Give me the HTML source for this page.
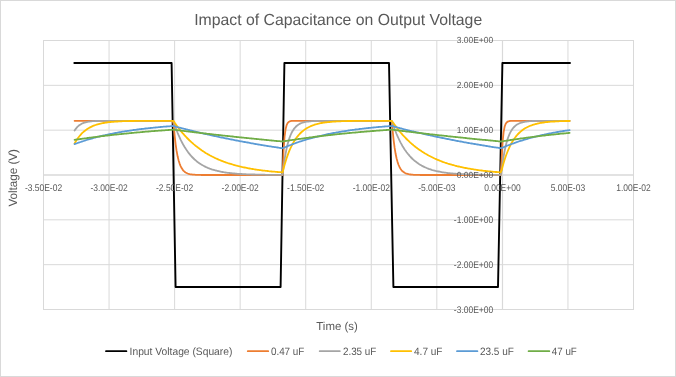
<!DOCTYPE html>
<html><head><meta charset="utf-8"><style>
html,body{margin:0;padding:0;background:#fff;}
svg{display:block;will-change:transform;}
text{font-family:"Liberation Sans", sans-serif;fill:#595959;text-rendering:geometricPrecision;}
</style></head><body>
<svg width="676" height="377" viewBox="0 0 676 377">
<rect x="0.5" y="0.5" width="675" height="376" fill="#fff" stroke="#d9d9d9" stroke-width="1"/>
<path d="M43 40.50H634 M43 85.33H634 M43 130.17H634 M43 219.83H634 M43 264.67H634 M43 309.50H634 M43.50 40V310 M109.06 40V310 M174.61 40V310 M240.17 40V310 M305.72 40V310 M371.28 40V310 M436.83 40V310 M567.94 40V310 M633.50 40V310" stroke="#d9d9d9" stroke-width="1" fill="none"/>
<path d="M43 175.00H634" stroke="#d9d9d9" stroke-width="1.5" fill="none"/>
<path d="M502.5 40V309.6" stroke="#d9d9d9" stroke-width="1.2" fill="none"/>
<path d="M74.3 63.0 L171.6 63.0 L175.6 287.0 L280.6 287.0 L284.4 63.0 L389.0 63.0 L393.4 287.0 L498.0 287.0 L502.4 63.0 L570.0 63.0" stroke="#000" stroke-width="1.9" fill="none" stroke-linejoin="round" stroke-linecap="round"/>
<path d="M74.6 120.8 L75.6 120.8 L76.6 120.8 L77.6 120.8 L78.6 120.8 L79.6 120.8 L80.6 120.8 L81.6 120.8 L82.6 120.8 L83.6 120.8 L84.6 120.8 L85.6 120.8 L86.6 120.8 L87.6 120.8 L88.6 120.8 L89.6 120.8 L90.6 120.8 L91.6 120.8 L92.6 120.8 L93.6 120.8 L94.6 120.8 L95.6 120.8 L96.6 120.8 L97.6 120.8 L98.6 120.8 L99.6 120.8 L100.6 120.8 L101.6 120.8 L102.6 120.8 L103.6 120.8 L104.6 120.8 L105.6 120.8 L106.6 120.8 L107.6 120.8 L108.6 120.8 L109.6 120.8 L110.6 120.8 L111.6 120.8 L112.6 120.8 L113.6 120.8 L114.6 120.8 L115.6 120.8 L116.6 120.8 L117.6 120.8 L118.6 120.8 L119.6 120.8 L120.6 120.8 L121.6 120.8 L122.6 120.8 L123.6 120.8 L124.6 120.8 L125.6 120.8 L126.6 120.8 L127.6 120.8 L128.6 120.8 L129.6 120.8 L130.6 120.8 L131.6 120.8 L132.6 120.8 L133.6 120.8 L134.6 120.8 L135.6 120.8 L136.6 120.8 L137.6 120.8 L138.6 120.8 L139.6 120.8 L140.6 120.8 L141.6 120.8 L142.6 120.8 L143.6 120.8 L144.6 120.8 L145.6 120.8 L146.6 120.8 L147.6 120.8 L148.6 120.8 L149.6 120.8 L150.6 120.8 L151.6 120.8 L152.6 120.8 L153.6 120.8 L154.6 120.8 L155.6 120.8 L156.6 120.8 L157.6 120.8 L158.6 120.8 L159.6 120.8 L160.6 120.8 L161.6 120.8 L162.6 120.8 L163.6 120.8 L164.6 120.8 L165.6 120.8 L166.6 120.8 L167.6 120.8 L168.6 120.8 L169.6 120.8 L170.6 120.8 L171.6 120.8 L172.6 120.8 L173.6 124.0 L174.6 135.3 L175.6 144.1 L176.6 150.9 L177.6 156.3 L178.6 160.4 L179.6 163.6 L180.6 166.1 L181.6 168.1 L182.6 169.6 L183.6 170.8 L184.6 171.7 L185.6 172.5 L186.6 173.0 L187.6 173.5 L188.6 173.8 L189.6 174.1 L190.6 174.3 L191.6 174.4 L192.6 174.6 L193.6 174.7 L194.6 174.7 L195.6 174.8 L196.6 174.8 L197.6 174.9 L198.6 174.9 L199.6 174.9 L200.6 174.9 L201.6 175.0 L202.6 175.0 L203.6 175.0 L204.6 175.0 L205.6 175.0 L206.6 175.0 L207.6 175.0 L208.6 175.0 L209.6 175.0 L210.6 175.0 L211.6 175.0 L212.6 175.0 L213.6 175.0 L214.6 175.0 L215.6 175.0 L216.6 175.0 L217.6 175.0 L218.6 175.0 L219.6 175.0 L220.6 175.0 L221.6 175.0 L222.6 175.0 L223.6 175.0 L224.6 175.0 L225.6 175.0 L226.6 175.0 L227.6 175.0 L228.6 175.0 L229.6 175.0 L230.6 175.0 L231.6 175.0 L232.6 175.0 L233.6 175.0 L234.6 175.0 L235.6 175.0 L236.6 175.0 L237.6 175.0 L238.6 175.0 L239.6 175.0 L240.6 175.0 L241.6 175.0 L242.6 175.0 L243.6 175.0 L244.6 175.0 L245.6 175.0 L246.6 175.0 L247.6 175.0 L248.6 175.0 L249.6 175.0 L250.6 175.0 L251.6 175.0 L252.6 175.0 L253.6 175.0 L254.6 175.0 L255.6 175.0 L256.6 175.0 L257.6 175.0 L258.6 175.0 L259.6 175.0 L260.6 175.0 L261.6 175.0 L262.6 175.0 L263.6 175.0 L264.6 175.0 L265.6 175.0 L266.6 175.0 L267.6 175.0 L268.6 175.0 L269.6 175.0 L270.6 175.0 L271.6 175.0 L272.6 175.0 L273.6 175.0 L274.6 175.0 L275.6 175.0 L276.6 175.0 L277.6 175.0 L278.6 175.0 L279.6 175.0 L280.6 175.0 L281.6 175.0 L282.6 175.0 L283.6 149.8 L284.6 136.3 L285.6 129.1 L286.6 125.2 L287.6 123.1 L288.6 122.0 L289.6 121.4 L290.6 121.1 L291.6 120.9 L292.6 120.9 L293.6 120.8 L294.6 120.8 L295.6 120.8 L296.6 120.8 L297.6 120.8 L298.6 120.8 L299.6 120.8 L300.6 120.8 L301.6 120.8 L302.6 120.8 L303.6 120.8 L304.6 120.8 L305.6 120.8 L306.6 120.8 L307.6 120.8 L308.6 120.8 L309.6 120.8 L310.6 120.8 L311.6 120.8 L312.6 120.8 L313.6 120.8 L314.6 120.8 L315.6 120.8 L316.6 120.8 L317.6 120.8 L318.6 120.8 L319.6 120.8 L320.6 120.8 L321.6 120.8 L322.6 120.8 L323.6 120.8 L324.6 120.8 L325.6 120.8 L326.6 120.8 L327.6 120.8 L328.6 120.8 L329.6 120.8 L330.6 120.8 L331.6 120.8 L332.6 120.8 L333.6 120.8 L334.6 120.8 L335.6 120.8 L336.6 120.8 L337.6 120.8 L338.6 120.8 L339.6 120.8 L340.6 120.8 L341.6 120.8 L342.6 120.8 L343.6 120.8 L344.6 120.8 L345.6 120.8 L346.6 120.8 L347.6 120.8 L348.6 120.8 L349.6 120.8 L350.6 120.8 L351.6 120.8 L352.6 120.8 L353.6 120.8 L354.6 120.8 L355.6 120.8 L356.6 120.8 L357.6 120.8 L358.6 120.8 L359.6 120.8 L360.6 120.8 L361.6 120.8 L362.6 120.8 L363.6 120.8 L364.6 120.8 L365.6 120.8 L366.6 120.8 L367.6 120.8 L368.6 120.8 L369.6 120.8 L370.6 120.8 L371.6 120.8 L372.6 120.8 L373.6 120.8 L374.6 120.8 L375.6 120.8 L376.6 120.8 L377.6 120.8 L378.6 120.8 L379.6 120.8 L380.6 120.8 L381.6 120.8 L382.6 120.8 L383.6 120.8 L384.6 120.8 L385.6 120.8 L386.6 120.8 L387.6 120.8 L388.6 120.8 L389.6 120.8 L390.6 120.8 L391.6 120.8 L392.6 130.0 L393.6 140.0 L394.6 147.7 L395.6 153.8 L396.6 158.5 L397.6 162.1 L398.6 165.0 L399.6 167.2 L400.6 168.9 L401.6 170.3 L402.6 171.3 L403.6 172.1 L404.6 172.8 L405.6 173.3 L406.6 173.6 L407.6 173.9 L408.6 174.2 L409.6 174.4 L410.6 174.5 L411.6 174.6 L412.6 174.7 L413.6 174.8 L414.6 174.8 L415.6 174.9 L416.6 174.9 L417.6 174.9 L418.6 174.9 L419.6 174.9 L420.6 175.0 L421.6 175.0 L422.6 175.0 L423.6 175.0 L424.6 175.0 L425.6 175.0 L426.6 175.0 L427.6 175.0 L428.6 175.0 L429.6 175.0 L430.6 175.0 L431.6 175.0 L432.6 175.0 L433.6 175.0 L434.6 175.0 L435.6 175.0 L436.6 175.0 L437.6 175.0 L438.6 175.0 L439.6 175.0 L440.6 175.0 L441.6 175.0 L442.6 175.0 L443.6 175.0 L444.6 175.0 L445.6 175.0 L446.6 175.0 L447.6 175.0 L448.6 175.0 L449.6 175.0 L450.6 175.0 L451.6 175.0 L452.6 175.0 L453.6 175.0 L454.6 175.0 L455.6 175.0 L456.6 175.0 L457.6 175.0 L458.6 175.0 L459.6 175.0 L460.6 175.0 L461.6 175.0 L462.6 175.0 L463.6 175.0 L464.6 175.0 L465.6 175.0 L466.6 175.0 L467.6 175.0 L468.6 175.0 L469.6 175.0 L470.6 175.0 L471.6 175.0 L472.6 175.0 L473.6 175.0 L474.6 175.0 L475.6 175.0 L476.6 175.0 L477.6 175.0 L478.6 175.0 L479.6 175.0 L480.6 175.0 L481.6 175.0 L482.6 175.0 L483.6 175.0 L484.6 175.0 L485.6 175.0 L486.6 175.0 L487.6 175.0 L488.6 175.0 L489.6 175.0 L490.6 175.0 L491.6 175.0 L492.6 175.0 L493.6 175.0 L494.6 175.0 L495.6 175.0 L496.6 175.0 L497.6 175.0 L498.6 175.0 L499.6 175.0 L500.6 175.0 L501.6 160.4 L502.6 142.0 L503.6 132.1 L504.6 126.8 L505.6 124.0 L506.6 122.5 L507.6 121.7 L508.6 121.3 L509.6 121.0 L510.6 120.9 L511.6 120.8 L512.6 120.8 L513.6 120.8 L514.6 120.8 L515.6 120.8 L516.6 120.8 L517.6 120.8 L518.6 120.8 L519.6 120.8 L520.6 120.8 L521.6 120.8 L522.6 120.8 L523.6 120.8 L524.6 120.8 L525.6 120.8 L526.6 120.8 L527.6 120.8 L528.6 120.8 L529.6 120.8 L530.6 120.8 L531.6 120.8 L532.6 120.8 L533.6 120.8 L534.6 120.8 L535.6 120.8 L536.6 120.8 L537.6 120.8 L538.6 120.8 L539.6 120.8 L540.6 120.8 L541.6 120.8 L542.6 120.8 L543.6 120.8 L544.6 120.8 L545.6 120.8 L546.6 120.8 L547.6 120.8 L548.6 120.8 L549.6 120.8 L550.6 120.8 L551.6 120.8 L552.6 120.8 L553.6 120.8 L554.6 120.8 L555.6 120.8 L556.6 120.8 L557.6 120.8 L558.6 120.8 L559.6 120.8 L560.6 120.8 L561.6 120.8 L562.6 120.8 L563.6 120.8 L564.6 120.8 L565.6 120.8 L566.6 120.8 L567.6 120.8 L568.6 120.8 L569.6 120.8" stroke="#ED7D31" stroke-width="1.8" fill="none" stroke-linejoin="round" stroke-linecap="round"/>
<path d="M74.6 130.6 L75.6 129.1 L76.6 127.8 L77.6 126.7 L78.6 125.8 L79.6 125.0 L80.6 124.4 L81.6 123.8 L82.6 123.3 L83.6 122.9 L84.6 122.6 L85.6 122.3 L86.6 122.1 L87.6 121.9 L88.6 121.7 L89.6 121.6 L90.6 121.4 L91.6 121.3 L92.6 121.2 L93.6 121.2 L94.6 121.1 L95.6 121.0 L96.6 121.0 L97.6 121.0 L98.6 120.9 L99.6 120.9 L100.6 120.9 L101.6 120.9 L102.6 120.8 L103.6 120.8 L104.6 120.8 L105.6 120.8 L106.6 120.8 L107.6 120.8 L108.6 120.8 L109.6 120.8 L110.6 120.8 L111.6 120.8 L112.6 120.8 L113.6 120.8 L114.6 120.8 L115.6 120.8 L116.6 120.8 L117.6 120.8 L118.6 120.8 L119.6 120.8 L120.6 120.8 L121.6 120.8 L122.6 120.8 L123.6 120.8 L124.6 120.8 L125.6 120.8 L126.6 120.8 L127.6 120.8 L128.6 120.8 L129.6 120.8 L130.6 120.8 L131.6 120.8 L132.6 120.8 L133.6 120.8 L134.6 120.8 L135.6 120.8 L136.6 120.8 L137.6 120.8 L138.6 120.8 L139.6 120.8 L140.6 120.8 L141.6 120.8 L142.6 120.8 L143.6 120.8 L144.6 120.8 L145.6 120.8 L146.6 120.8 L147.6 120.8 L148.6 120.8 L149.6 120.8 L150.6 120.8 L151.6 120.8 L152.6 120.8 L153.6 120.8 L154.6 120.8 L155.6 120.8 L156.6 120.8 L157.6 120.8 L158.6 120.8 L159.6 120.8 L160.6 120.8 L161.6 120.8 L162.6 120.8 L163.6 120.8 L164.6 120.8 L165.6 120.8 L166.6 120.8 L167.6 120.8 L168.6 120.8 L169.6 120.8 L170.6 120.8 L171.6 120.8 L172.6 120.8 L173.6 121.5 L174.6 124.6 L175.6 127.5 L176.6 130.2 L177.6 132.8 L178.6 135.2 L179.6 137.4 L180.6 139.6 L181.6 141.6 L182.6 143.5 L183.6 145.3 L184.6 147.0 L185.6 148.6 L186.6 150.1 L187.6 151.5 L188.6 152.9 L189.6 154.1 L190.6 155.3 L191.6 156.5 L192.6 157.5 L193.6 158.5 L194.6 159.5 L195.6 160.3 L196.6 161.2 L197.6 162.0 L198.6 162.7 L199.6 163.4 L200.6 164.1 L201.6 164.7 L202.6 165.3 L203.6 165.8 L204.6 166.4 L205.6 166.9 L206.6 167.3 L207.6 167.8 L208.6 168.2 L209.6 168.6 L210.6 168.9 L211.6 169.3 L212.6 169.6 L213.6 169.9 L214.6 170.2 L215.6 170.5 L216.6 170.7 L217.6 171.0 L218.6 171.2 L219.6 171.4 L220.6 171.6 L221.6 171.8 L222.6 172.0 L223.6 172.2 L224.6 172.3 L225.6 172.5 L226.6 172.6 L227.6 172.8 L228.6 172.9 L229.6 173.0 L230.6 173.1 L231.6 173.2 L232.6 173.3 L233.6 173.4 L234.6 173.5 L235.6 173.6 L236.6 173.7 L237.6 173.8 L238.6 173.8 L239.6 173.9 L240.6 174.0 L241.6 174.0 L242.6 174.1 L243.6 174.1 L244.6 174.2 L245.6 174.2 L246.6 174.3 L247.6 174.3 L248.6 174.4 L249.6 174.4 L250.6 174.4 L251.6 174.5 L252.6 174.5 L253.6 174.5 L254.6 174.5 L255.6 174.6 L256.6 174.6 L257.6 174.6 L258.6 174.6 L259.6 174.7 L260.6 174.7 L261.6 174.7 L262.6 174.7 L263.6 174.7 L264.6 174.7 L265.6 174.8 L266.6 174.8 L267.6 174.8 L268.6 174.8 L269.6 174.8 L270.6 174.8 L271.6 174.8 L272.6 174.8 L273.6 174.9 L274.6 174.9 L275.6 174.9 L276.6 174.9 L277.6 174.9 L278.6 174.9 L279.6 174.9 L280.6 174.9 L281.6 174.9 L282.6 174.9 L283.6 166.6 L284.6 159.6 L285.6 153.6 L286.6 148.6 L287.6 144.3 L288.6 140.7 L289.6 137.6 L290.6 135.0 L291.6 132.8 L292.6 131.0 L293.6 129.4 L294.6 128.1 L295.6 127.0 L296.6 126.0 L297.6 125.2 L298.6 124.5 L299.6 123.9 L300.6 123.4 L301.6 123.0 L302.6 122.7 L303.6 122.4 L304.6 122.1 L305.6 121.9 L306.6 121.7 L307.6 121.6 L308.6 121.5 L309.6 121.4 L310.6 121.3 L311.6 121.2 L312.6 121.1 L313.6 121.1 L314.6 121.0 L315.6 121.0 L316.6 120.9 L317.6 120.9 L318.6 120.9 L319.6 120.9 L320.6 120.8 L321.6 120.8 L322.6 120.8 L323.6 120.8 L324.6 120.8 L325.6 120.8 L326.6 120.8 L327.6 120.8 L328.6 120.8 L329.6 120.8 L330.6 120.8 L331.6 120.8 L332.6 120.8 L333.6 120.8 L334.6 120.8 L335.6 120.8 L336.6 120.8 L337.6 120.8 L338.6 120.8 L339.6 120.8 L340.6 120.8 L341.6 120.8 L342.6 120.8 L343.6 120.8 L344.6 120.8 L345.6 120.8 L346.6 120.8 L347.6 120.8 L348.6 120.8 L349.6 120.8 L350.6 120.8 L351.6 120.8 L352.6 120.8 L353.6 120.8 L354.6 120.8 L355.6 120.8 L356.6 120.8 L357.6 120.8 L358.6 120.8 L359.6 120.8 L360.6 120.8 L361.6 120.8 L362.6 120.8 L363.6 120.8 L364.6 120.8 L365.6 120.8 L366.6 120.8 L367.6 120.8 L368.6 120.8 L369.6 120.8 L370.6 120.8 L371.6 120.8 L372.6 120.8 L373.6 120.8 L374.6 120.8 L375.6 120.8 L376.6 120.8 L377.6 120.8 L378.6 120.8 L379.6 120.8 L380.6 120.8 L381.6 120.8 L382.6 120.8 L383.6 120.8 L384.6 120.8 L385.6 120.8 L386.6 120.8 L387.6 120.8 L388.6 120.8 L389.6 120.8 L390.6 120.8 L391.6 120.8 L392.6 123.1 L393.6 126.1 L394.6 128.9 L395.6 131.5 L396.6 134.0 L397.6 136.3 L398.6 138.5 L399.6 140.6 L400.6 142.6 L401.6 144.4 L402.6 146.2 L403.6 147.8 L404.6 149.4 L405.6 150.8 L406.6 152.2 L407.6 153.5 L408.6 154.7 L409.6 155.9 L410.6 157.0 L411.6 158.0 L412.6 159.0 L413.6 159.9 L414.6 160.8 L415.6 161.6 L416.6 162.3 L417.6 163.1 L418.6 163.8 L419.6 164.4 L420.6 165.0 L421.6 165.6 L422.6 166.1 L423.6 166.6 L424.6 167.1 L425.6 167.5 L426.6 168.0 L427.6 168.4 L428.6 168.8 L429.6 169.1 L430.6 169.4 L431.6 169.8 L432.6 170.1 L433.6 170.3 L434.6 170.6 L435.6 170.9 L436.6 171.1 L437.6 171.3 L438.6 171.5 L439.6 171.7 L440.6 171.9 L441.6 172.1 L442.6 172.3 L443.6 172.4 L444.6 172.6 L445.6 172.7 L446.6 172.8 L447.6 173.0 L448.6 173.1 L449.6 173.2 L450.6 173.3 L451.6 173.4 L452.6 173.5 L453.6 173.6 L454.6 173.6 L455.6 173.7 L456.6 173.8 L457.6 173.9 L458.6 173.9 L459.6 174.0 L460.6 174.0 L461.6 174.1 L462.6 174.2 L463.6 174.2 L464.6 174.2 L465.6 174.3 L466.6 174.3 L467.6 174.4 L468.6 174.4 L469.6 174.4 L470.6 174.5 L471.6 174.5 L472.6 174.5 L473.6 174.6 L474.6 174.6 L475.6 174.6 L476.6 174.6 L477.6 174.7 L478.6 174.7 L479.6 174.7 L480.6 174.7 L481.6 174.7 L482.6 174.7 L483.6 174.8 L484.6 174.8 L485.6 174.8 L486.6 174.8 L487.6 174.8 L488.6 174.8 L489.6 174.8 L490.6 174.8 L491.6 174.8 L492.6 174.9 L493.6 174.9 L494.6 174.9 L495.6 174.9 L496.6 174.9 L497.6 174.9 L498.6 174.9 L499.6 174.9 L500.6 174.9 L501.6 170.6 L502.6 162.9 L503.6 156.5 L504.6 151.0 L505.6 146.3 L506.6 142.4 L507.6 139.1 L508.6 136.3 L509.6 133.9 L510.6 131.9 L511.6 130.2 L512.6 128.7 L513.6 127.5 L514.6 126.5 L515.6 125.6 L516.6 124.8 L517.6 124.2 L518.6 123.7 L519.6 123.2 L520.6 122.9 L521.6 122.5 L522.6 122.3 L523.6 122.0 L524.6 121.8 L525.6 121.7 L526.6 121.5 L527.6 121.4 L528.6 121.3 L529.6 121.2 L530.6 121.1 L531.6 121.1 L532.6 121.0 L533.6 121.0 L534.6 121.0 L535.6 120.9 L536.6 120.9 L537.6 120.9 L538.6 120.9 L539.6 120.8 L540.6 120.8 L541.6 120.8 L542.6 120.8 L543.6 120.8 L544.6 120.8 L545.6 120.8 L546.6 120.8 L547.6 120.8 L548.6 120.8 L549.6 120.8 L550.6 120.8 L551.6 120.8 L552.6 120.8 L553.6 120.8 L554.6 120.8 L555.6 120.8 L556.6 120.8 L557.6 120.8 L558.6 120.8 L559.6 120.8 L560.6 120.8 L561.6 120.8 L562.6 120.8 L563.6 120.8 L564.6 120.8 L565.6 120.8 L566.6 120.8 L567.6 120.8 L568.6 120.8 L569.6 120.8" stroke="#A5A5A5" stroke-width="1.8" fill="none" stroke-linejoin="round" stroke-linecap="round"/>
<path d="M74.6 143.5 L75.6 141.7 L76.6 140.1 L77.6 138.6 L78.6 137.3 L79.6 136.0 L80.6 134.8 L81.6 133.7 L82.6 132.7 L83.6 131.8 L84.6 131.0 L85.6 130.2 L86.6 129.5 L87.6 128.8 L88.6 128.2 L89.6 127.6 L90.6 127.1 L91.6 126.6 L92.6 126.1 L93.6 125.7 L94.6 125.3 L95.6 125.0 L96.6 124.7 L97.6 124.4 L98.6 124.1 L99.6 123.8 L100.6 123.6 L101.6 123.4 L102.6 123.2 L103.6 123.0 L104.6 122.8 L105.6 122.7 L106.6 122.5 L107.6 122.4 L108.6 122.2 L109.6 122.1 L110.6 122.0 L111.6 121.9 L112.6 121.8 L113.6 121.8 L114.6 121.7 L115.6 121.6 L116.6 121.5 L117.6 121.5 L118.6 121.4 L119.6 121.4 L120.6 121.3 L121.6 121.3 L122.6 121.2 L123.6 121.2 L124.6 121.2 L125.6 121.1 L126.6 121.1 L127.6 121.1 L128.6 121.1 L129.6 121.0 L130.6 121.0 L131.6 121.0 L132.6 121.0 L133.6 121.0 L134.6 120.9 L135.6 120.9 L136.6 120.9 L137.6 120.9 L138.6 120.9 L139.6 120.9 L140.6 120.9 L141.6 120.9 L142.6 120.9 L143.6 120.8 L144.6 120.8 L145.6 120.8 L146.6 120.8 L147.6 120.8 L148.6 120.8 L149.6 120.8 L150.6 120.8 L151.6 120.8 L152.6 120.8 L153.6 120.8 L154.6 120.8 L155.6 120.8 L156.6 120.8 L157.6 120.8 L158.6 120.8 L159.6 120.8 L160.6 120.8 L161.6 120.8 L162.6 120.8 L163.6 120.8 L164.6 120.8 L165.6 120.8 L166.6 120.8 L167.6 120.8 L168.6 120.8 L169.6 120.8 L170.6 120.8 L171.6 120.8 L172.6 120.8 L173.6 121.1 L174.6 122.6 L175.6 124.0 L176.6 125.4 L177.6 126.8 L178.6 128.1 L179.6 129.4 L180.6 130.7 L181.6 131.9 L182.6 133.1 L183.6 134.2 L184.6 135.3 L185.6 136.4 L186.6 137.5 L187.6 138.5 L188.6 139.5 L189.6 140.5 L190.6 141.4 L191.6 142.3 L192.6 143.2 L193.6 144.1 L194.6 144.9 L195.6 145.8 L196.6 146.6 L197.6 147.3 L198.6 148.1 L199.6 148.8 L200.6 149.6 L201.6 150.3 L202.6 150.9 L203.6 151.6 L204.6 152.2 L205.6 152.9 L206.6 153.5 L207.6 154.1 L208.6 154.6 L209.6 155.2 L210.6 155.7 L211.6 156.3 L212.6 156.8 L213.6 157.3 L214.6 157.8 L215.6 158.2 L216.6 158.7 L217.6 159.1 L218.6 159.6 L219.6 160.0 L220.6 160.4 L221.6 160.8 L222.6 161.2 L223.6 161.6 L224.6 161.9 L225.6 162.3 L226.6 162.6 L227.6 163.0 L228.6 163.3 L229.6 163.6 L230.6 163.9 L231.6 164.2 L232.6 164.5 L233.6 164.8 L234.6 165.1 L235.6 165.4 L236.6 165.6 L237.6 165.9 L238.6 166.1 L239.6 166.4 L240.6 166.6 L241.6 166.9 L242.6 167.1 L243.6 167.3 L244.6 167.5 L245.6 167.7 L246.6 167.9 L247.6 168.1 L248.6 168.3 L249.6 168.5 L250.6 168.7 L251.6 168.8 L252.6 169.0 L253.6 169.2 L254.6 169.3 L255.6 169.5 L256.6 169.6 L257.6 169.8 L258.6 169.9 L259.6 170.1 L260.6 170.2 L261.6 170.3 L262.6 170.5 L263.6 170.6 L264.6 170.7 L265.6 170.8 L266.6 170.9 L267.6 171.0 L268.6 171.2 L269.6 171.3 L270.6 171.4 L271.6 171.5 L272.6 171.6 L273.6 171.7 L274.6 171.7 L275.6 171.8 L276.6 171.9 L277.6 172.0 L278.6 172.1 L279.6 172.2 L280.6 172.2 L281.6 172.3 L282.6 172.4 L283.6 168.4 L284.6 164.8 L285.6 161.4 L286.6 158.2 L287.6 155.4 L288.6 152.7 L289.6 150.2 L290.6 148.0 L291.6 145.9 L292.6 144.0 L293.6 142.2 L294.6 140.5 L295.6 139.0 L296.6 137.6 L297.6 136.3 L298.6 135.1 L299.6 134.0 L300.6 133.0 L301.6 132.0 L302.6 131.2 L303.6 130.4 L304.6 129.6 L305.6 129.0 L306.6 128.3 L307.6 127.7 L308.6 127.2 L309.6 126.7 L310.6 126.2 L311.6 125.8 L312.6 125.4 L313.6 125.1 L314.6 124.7 L315.6 124.4 L316.6 124.2 L317.6 123.9 L318.6 123.7 L319.6 123.4 L320.6 123.2 L321.6 123.0 L322.6 122.9 L323.6 122.7 L324.6 122.5 L325.6 122.4 L326.6 122.3 L327.6 122.2 L328.6 122.1 L329.6 122.0 L330.6 121.9 L331.6 121.8 L332.6 121.7 L333.6 121.6 L334.6 121.6 L335.6 121.5 L336.6 121.4 L337.6 121.4 L338.6 121.3 L339.6 121.3 L340.6 121.3 L341.6 121.2 L342.6 121.2 L343.6 121.1 L344.6 121.1 L345.6 121.1 L346.6 121.1 L347.6 121.0 L348.6 121.0 L349.6 121.0 L350.6 121.0 L351.6 121.0 L352.6 120.9 L353.6 120.9 L354.6 120.9 L355.6 120.9 L356.6 120.9 L357.6 120.9 L358.6 120.9 L359.6 120.9 L360.6 120.9 L361.6 120.8 L362.6 120.8 L363.6 120.8 L364.6 120.8 L365.6 120.8 L366.6 120.8 L367.6 120.8 L368.6 120.8 L369.6 120.8 L370.6 120.8 L371.6 120.8 L372.6 120.8 L373.6 120.8 L374.6 120.8 L375.6 120.8 L376.6 120.8 L377.6 120.8 L378.6 120.8 L379.6 120.8 L380.6 120.8 L381.6 120.8 L382.6 120.8 L383.6 120.8 L384.6 120.8 L385.6 120.8 L386.6 120.8 L387.6 120.8 L388.6 120.8 L389.6 120.8 L390.6 120.8 L391.6 120.8 L392.6 121.9 L393.6 123.3 L394.6 124.7 L395.6 126.1 L396.6 127.5 L397.6 128.8 L398.6 130.0 L399.6 131.3 L400.6 132.5 L401.6 133.6 L402.6 134.8 L403.6 135.9 L404.6 136.9 L405.6 138.0 L406.6 139.0 L407.6 140.0 L408.6 140.9 L409.6 141.9 L410.6 142.8 L411.6 143.7 L412.6 144.5 L413.6 145.4 L414.6 146.2 L415.6 147.0 L416.6 147.7 L417.6 148.5 L418.6 149.2 L419.6 149.9 L420.6 150.6 L421.6 151.3 L422.6 151.9 L423.6 152.5 L424.6 153.2 L425.6 153.8 L426.6 154.3 L427.6 154.9 L428.6 155.5 L429.6 156.0 L430.6 156.5 L431.6 157.0 L432.6 157.5 L433.6 158.0 L434.6 158.5 L435.6 158.9 L436.6 159.4 L437.6 159.8 L438.6 160.2 L439.6 160.6 L440.6 161.0 L441.6 161.4 L442.6 161.8 L443.6 162.1 L444.6 162.5 L445.6 162.8 L446.6 163.1 L447.6 163.5 L448.6 163.8 L449.6 164.1 L450.6 164.4 L451.6 164.7 L452.6 165.0 L453.6 165.2 L454.6 165.5 L455.6 165.8 L456.6 166.0 L457.6 166.3 L458.6 166.5 L459.6 166.7 L460.6 167.0 L461.6 167.2 L462.6 167.4 L463.6 167.6 L464.6 167.8 L465.6 168.0 L466.6 168.2 L467.6 168.4 L468.6 168.6 L469.6 168.7 L470.6 168.9 L471.6 169.1 L472.6 169.2 L473.6 169.4 L474.6 169.6 L475.6 169.7 L476.6 169.8 L477.6 170.0 L478.6 170.1 L479.6 170.3 L480.6 170.4 L481.6 170.5 L482.6 170.6 L483.6 170.8 L484.6 170.9 L485.6 171.0 L486.6 171.1 L487.6 171.2 L488.6 171.3 L489.6 171.4 L490.6 171.5 L491.6 171.6 L492.6 171.7 L493.6 171.8 L494.6 171.9 L495.6 172.0 L496.6 172.0 L497.6 172.1 L498.6 172.2 L499.6 172.3 L500.6 172.4 L501.6 170.4 L502.6 166.6 L503.6 163.0 L504.6 159.8 L505.6 156.8 L506.6 154.0 L507.6 151.5 L508.6 149.1 L509.6 146.9 L510.6 144.9 L511.6 143.0 L512.6 141.3 L513.6 139.7 L514.6 138.3 L515.6 136.9 L516.6 135.7 L517.6 134.5 L518.6 133.5 L519.6 132.5 L520.6 131.6 L521.6 130.8 L522.6 130.0 L523.6 129.3 L524.6 128.6 L525.6 128.0 L526.6 127.5 L527.6 127.0 L528.6 126.5 L529.6 126.0 L530.6 125.6 L531.6 125.3 L532.6 124.9 L533.6 124.6 L534.6 124.3 L535.6 124.0 L536.6 123.8 L537.6 123.5 L538.6 123.3 L539.6 123.1 L540.6 122.9 L541.6 122.8 L542.6 122.6 L543.6 122.5 L544.6 122.3 L545.6 122.2 L546.6 122.1 L547.6 122.0 L548.6 121.9 L549.6 121.8 L550.6 121.7 L551.6 121.7 L552.6 121.6 L553.6 121.5 L554.6 121.5 L555.6 121.4 L556.6 121.4 L557.6 121.3 L558.6 121.3 L559.6 121.2 L560.6 121.2 L561.6 121.2 L562.6 121.1 L563.6 121.1 L564.6 121.1 L565.6 121.0 L566.6 121.0 L567.6 121.0 L568.6 121.0 L569.6 121.0" stroke="#FFC000" stroke-width="1.8" fill="none" stroke-linejoin="round" stroke-linecap="round"/>
<path d="M74.6 144.1 L75.6 143.7 L76.6 143.4 L77.6 143.0 L78.6 142.6 L79.6 142.3 L80.6 142.0 L81.6 141.6 L82.6 141.3 L83.6 141.0 L84.6 140.6 L85.6 140.3 L86.6 140.0 L87.6 139.7 L88.6 139.4 L89.6 139.1 L90.6 138.8 L91.6 138.6 L92.6 138.3 L93.6 138.0 L94.6 137.7 L95.6 137.5 L96.6 137.2 L97.6 136.9 L98.6 136.7 L99.6 136.4 L100.6 136.2 L101.6 136.0 L102.6 135.7 L103.6 135.5 L104.6 135.3 L105.6 135.0 L106.6 134.8 L107.6 134.6 L108.6 134.4 L109.6 134.2 L110.6 134.0 L111.6 133.8 L112.6 133.6 L113.6 133.4 L114.6 133.2 L115.6 133.0 L116.6 132.8 L117.6 132.6 L118.6 132.4 L119.6 132.2 L120.6 132.1 L121.6 131.9 L122.6 131.7 L123.6 131.6 L124.6 131.4 L125.6 131.2 L126.6 131.1 L127.6 130.9 L128.6 130.8 L129.6 130.6 L130.6 130.5 L131.6 130.3 L132.6 130.2 L133.6 130.0 L134.6 129.9 L135.6 129.8 L136.6 129.6 L137.6 129.5 L138.6 129.4 L139.6 129.2 L140.6 129.1 L141.6 129.0 L142.6 128.9 L143.6 128.8 L144.6 128.6 L145.6 128.5 L146.6 128.4 L147.6 128.3 L148.6 128.2 L149.6 128.1 L150.6 128.0 L151.6 127.9 L152.6 127.8 L153.6 127.7 L154.6 127.6 L155.6 127.5 L156.6 127.4 L157.6 127.3 L158.6 127.2 L159.6 127.1 L160.6 127.0 L161.6 126.9 L162.6 126.8 L163.6 126.7 L164.6 126.7 L165.6 126.6 L166.6 126.5 L167.6 126.4 L168.6 126.3 L169.6 126.3 L170.6 126.2 L171.6 126.1 L172.6 126.0 L173.6 126.0 L174.6 126.3 L175.6 126.6 L176.6 126.9 L177.6 127.1 L178.6 127.4 L179.6 127.6 L180.6 127.9 L181.6 128.2 L182.6 128.4 L183.6 128.7 L184.6 128.9 L185.6 129.2 L186.6 129.5 L187.6 129.7 L188.6 130.0 L189.6 130.2 L190.6 130.5 L191.6 130.7 L192.6 130.9 L193.6 131.2 L194.6 131.4 L195.6 131.7 L196.6 131.9 L197.6 132.2 L198.6 132.4 L199.6 132.6 L200.6 132.9 L201.6 133.1 L202.6 133.3 L203.6 133.6 L204.6 133.8 L205.6 134.0 L206.6 134.2 L207.6 134.5 L208.6 134.7 L209.6 134.9 L210.6 135.1 L211.6 135.4 L212.6 135.6 L213.6 135.8 L214.6 136.0 L215.6 136.2 L216.6 136.4 L217.6 136.7 L218.6 136.9 L219.6 137.1 L220.6 137.3 L221.6 137.5 L222.6 137.7 L223.6 137.9 L224.6 138.1 L225.6 138.3 L226.6 138.5 L227.6 138.7 L228.6 138.9 L229.6 139.1 L230.6 139.3 L231.6 139.5 L232.6 139.7 L233.6 139.9 L234.6 140.1 L235.6 140.3 L236.6 140.5 L237.6 140.7 L238.6 140.9 L239.6 141.1 L240.6 141.3 L241.6 141.4 L242.6 141.6 L243.6 141.8 L244.6 142.0 L245.6 142.2 L246.6 142.4 L247.6 142.5 L248.6 142.7 L249.6 142.9 L250.6 143.1 L251.6 143.3 L252.6 143.4 L253.6 143.6 L254.6 143.8 L255.6 144.0 L256.6 144.1 L257.6 144.3 L258.6 144.5 L259.6 144.6 L260.6 144.8 L261.6 145.0 L262.6 145.1 L263.6 145.3 L264.6 145.5 L265.6 145.6 L266.6 145.8 L267.6 146.0 L268.6 146.1 L269.6 146.3 L270.6 146.4 L271.6 146.6 L272.6 146.8 L273.6 146.9 L274.6 147.1 L275.6 147.2 L276.6 147.4 L277.6 147.5 L278.6 147.7 L279.6 147.8 L280.6 148.0 L281.6 148.1 L282.6 148.3 L283.6 147.8 L284.6 147.4 L285.6 147.0 L286.6 146.6 L287.6 146.2 L288.6 145.7 L289.6 145.3 L290.6 145.0 L291.6 144.6 L292.6 144.2 L293.6 143.8 L294.6 143.5 L295.6 143.1 L296.6 142.7 L297.6 142.4 L298.6 142.0 L299.6 141.7 L300.6 141.4 L301.6 141.1 L302.6 140.7 L303.6 140.4 L304.6 140.1 L305.6 139.8 L306.6 139.5 L307.6 139.2 L308.6 138.9 L309.6 138.6 L310.6 138.3 L311.6 138.1 L312.6 137.8 L313.6 137.5 L314.6 137.3 L315.6 137.0 L316.6 136.8 L317.6 136.5 L318.6 136.3 L319.6 136.0 L320.6 135.8 L321.6 135.6 L322.6 135.3 L323.6 135.1 L324.6 134.9 L325.6 134.7 L326.6 134.4 L327.6 134.2 L328.6 134.0 L329.6 133.8 L330.6 133.6 L331.6 133.4 L332.6 133.2 L333.6 133.0 L334.6 132.8 L335.6 132.7 L336.6 132.5 L337.6 132.3 L338.6 132.1 L339.6 131.9 L340.6 131.8 L341.6 131.6 L342.6 131.4 L343.6 131.3 L344.6 131.1 L345.6 131.0 L346.6 130.8 L347.6 130.7 L348.6 130.5 L349.6 130.4 L350.6 130.2 L351.6 130.1 L352.6 129.9 L353.6 129.8 L354.6 129.7 L355.6 129.5 L356.6 129.4 L357.6 129.3 L358.6 129.2 L359.6 129.0 L360.6 128.9 L361.6 128.8 L362.6 128.7 L363.6 128.6 L364.6 128.4 L365.6 128.3 L366.6 128.2 L367.6 128.1 L368.6 128.0 L369.6 127.9 L370.6 127.8 L371.6 127.7 L372.6 127.6 L373.6 127.5 L374.6 127.4 L375.6 127.3 L376.6 127.2 L377.6 127.1 L378.6 127.0 L379.6 126.9 L380.6 126.8 L381.6 126.8 L382.6 126.7 L383.6 126.6 L384.6 126.5 L385.6 126.4 L386.6 126.4 L387.6 126.3 L388.6 126.2 L389.6 126.1 L390.6 126.1 L391.6 126.0 L392.6 126.2 L393.6 126.4 L394.6 126.7 L395.6 127.0 L396.6 127.2 L397.6 127.5 L398.6 127.8 L399.6 128.0 L400.6 128.3 L401.6 128.5 L402.6 128.8 L403.6 129.1 L404.6 129.3 L405.6 129.6 L406.6 129.8 L407.6 130.1 L408.6 130.3 L409.6 130.6 L410.6 130.8 L411.6 131.1 L412.6 131.3 L413.6 131.5 L414.6 131.8 L415.6 132.0 L416.6 132.3 L417.6 132.5 L418.6 132.7 L419.6 133.0 L420.6 133.2 L421.6 133.4 L422.6 133.7 L423.6 133.9 L424.6 134.1 L425.6 134.3 L426.6 134.6 L427.6 134.8 L428.6 135.0 L429.6 135.2 L430.6 135.5 L431.6 135.7 L432.6 135.9 L433.6 136.1 L434.6 136.3 L435.6 136.5 L436.6 136.8 L437.6 137.0 L438.6 137.2 L439.6 137.4 L440.6 137.6 L441.6 137.8 L442.6 138.0 L443.6 138.2 L444.6 138.4 L445.6 138.6 L446.6 138.8 L447.6 139.0 L448.6 139.2 L449.6 139.4 L450.6 139.6 L451.6 139.8 L452.6 140.0 L453.6 140.2 L454.6 140.4 L455.6 140.6 L456.6 140.8 L457.6 141.0 L458.6 141.2 L459.6 141.3 L460.6 141.5 L461.6 141.7 L462.6 141.9 L463.6 142.1 L464.6 142.3 L465.6 142.4 L466.6 142.6 L467.6 142.8 L468.6 143.0 L469.6 143.2 L470.6 143.3 L471.6 143.5 L472.6 143.7 L473.6 143.9 L474.6 144.0 L475.6 144.2 L476.6 144.4 L477.6 144.5 L478.6 144.7 L479.6 144.9 L480.6 145.0 L481.6 145.2 L482.6 145.4 L483.6 145.5 L484.6 145.7 L485.6 145.9 L486.6 146.0 L487.6 146.2 L488.6 146.4 L489.6 146.5 L490.6 146.7 L491.6 146.8 L492.6 147.0 L493.6 147.1 L494.6 147.3 L495.6 147.4 L496.6 147.6 L497.6 147.7 L498.6 147.9 L499.6 148.0 L500.6 148.2 L501.6 148.1 L502.6 147.6 L503.6 147.2 L504.6 146.8 L505.6 146.3 L506.6 145.9 L507.6 145.5 L508.6 145.1 L509.6 144.8 L510.6 144.4 L511.6 144.0 L512.6 143.6 L513.6 143.3 L514.6 142.9 L515.6 142.6 L516.6 142.2 L517.6 141.9 L518.6 141.5 L519.6 141.2 L520.6 140.9 L521.6 140.6 L522.6 140.3 L523.6 139.9 L524.6 139.6 L525.6 139.3 L526.6 139.1 L527.6 138.8 L528.6 138.5 L529.6 138.2 L530.6 137.9 L531.6 137.7 L532.6 137.4 L533.6 137.1 L534.6 136.9 L535.6 136.6 L536.6 136.4 L537.6 136.1 L538.6 135.9 L539.6 135.7 L540.6 135.4 L541.6 135.2 L542.6 135.0 L543.6 134.8 L544.6 134.5 L545.6 134.3 L546.6 134.1 L547.6 133.9 L548.6 133.7 L549.6 133.5 L550.6 133.3 L551.6 133.1 L552.6 132.9 L553.6 132.7 L554.6 132.6 L555.6 132.4 L556.6 132.2 L557.6 132.0 L558.6 131.9 L559.6 131.7 L560.6 131.5 L561.6 131.4 L562.6 131.2 L563.6 131.0 L564.6 130.9 L565.6 130.7 L566.6 130.6 L567.6 130.4 L568.6 130.3 L569.6 130.1" stroke="#5B9BD5" stroke-width="1.8" fill="none" stroke-linejoin="round" stroke-linecap="round"/>
<path d="M74.6 139.9 L75.6 139.7 L76.6 139.6 L77.6 139.4 L78.6 139.3 L79.6 139.1 L80.6 139.0 L81.6 138.9 L82.6 138.7 L83.6 138.6 L84.6 138.4 L85.6 138.3 L86.6 138.2 L87.6 138.0 L88.6 137.9 L89.6 137.7 L90.6 137.6 L91.6 137.5 L92.6 137.3 L93.6 137.2 L94.6 137.1 L95.6 137.0 L96.6 136.8 L97.6 136.7 L98.6 136.6 L99.6 136.5 L100.6 136.3 L101.6 136.2 L102.6 136.1 L103.6 136.0 L104.6 135.9 L105.6 135.7 L106.6 135.6 L107.6 135.5 L108.6 135.4 L109.6 135.3 L110.6 135.2 L111.6 135.0 L112.6 134.9 L113.6 134.8 L114.6 134.7 L115.6 134.6 L116.6 134.5 L117.6 134.4 L118.6 134.3 L119.6 134.2 L120.6 134.1 L121.6 134.0 L122.6 133.9 L123.6 133.8 L124.6 133.7 L125.6 133.6 L126.6 133.5 L127.6 133.4 L128.6 133.3 L129.6 133.2 L130.6 133.1 L131.6 133.0 L132.6 132.9 L133.6 132.8 L134.6 132.7 L135.6 132.6 L136.6 132.5 L137.6 132.4 L138.6 132.3 L139.6 132.3 L140.6 132.2 L141.6 132.1 L142.6 132.0 L143.6 131.9 L144.6 131.8 L145.6 131.7 L146.6 131.7 L147.6 131.6 L148.6 131.5 L149.6 131.4 L150.6 131.3 L151.6 131.2 L152.6 131.2 L153.6 131.1 L154.6 131.0 L155.6 130.9 L156.6 130.9 L157.6 130.8 L158.6 130.7 L159.6 130.6 L160.6 130.6 L161.6 130.5 L162.6 130.4 L163.6 130.3 L164.6 130.3 L165.6 130.2 L166.6 130.1 L167.6 130.1 L168.6 130.0 L169.6 129.9 L170.6 129.8 L171.6 129.8 L172.6 129.7 L173.6 129.7 L174.6 129.8 L175.6 129.9 L176.6 130.1 L177.6 130.2 L178.6 130.3 L179.6 130.4 L180.6 130.6 L181.6 130.7 L182.6 130.8 L183.6 130.9 L184.6 131.1 L185.6 131.2 L186.6 131.3 L187.6 131.4 L188.6 131.5 L189.6 131.7 L190.6 131.8 L191.6 131.9 L192.6 132.0 L193.6 132.1 L194.6 132.3 L195.6 132.4 L196.6 132.5 L197.6 132.6 L198.6 132.7 L199.6 132.8 L200.6 133.0 L201.6 133.1 L202.6 133.2 L203.6 133.3 L204.6 133.4 L205.6 133.5 L206.6 133.7 L207.6 133.8 L208.6 133.9 L209.6 134.0 L210.6 134.1 L211.6 134.2 L212.6 134.3 L213.6 134.5 L214.6 134.6 L215.6 134.7 L216.6 134.8 L217.6 134.9 L218.6 135.0 L219.6 135.1 L220.6 135.2 L221.6 135.3 L222.6 135.5 L223.6 135.6 L224.6 135.7 L225.6 135.8 L226.6 135.9 L227.6 136.0 L228.6 136.1 L229.6 136.2 L230.6 136.3 L231.6 136.4 L232.6 136.5 L233.6 136.6 L234.6 136.8 L235.6 136.9 L236.6 137.0 L237.6 137.1 L238.6 137.2 L239.6 137.3 L240.6 137.4 L241.6 137.5 L242.6 137.6 L243.6 137.7 L244.6 137.8 L245.6 137.9 L246.6 138.0 L247.6 138.1 L248.6 138.2 L249.6 138.3 L250.6 138.4 L251.6 138.5 L252.6 138.6 L253.6 138.7 L254.6 138.8 L255.6 138.9 L256.6 139.0 L257.6 139.1 L258.6 139.2 L259.6 139.3 L260.6 139.4 L261.6 139.5 L262.6 139.6 L263.6 139.7 L264.6 139.8 L265.6 139.9 L266.6 140.0 L267.6 140.1 L268.6 140.2 L269.6 140.3 L270.6 140.4 L271.6 140.5 L272.6 140.6 L273.6 140.7 L274.6 140.8 L275.6 140.9 L276.6 141.0 L277.6 141.1 L278.6 141.2 L279.6 141.2 L280.6 141.3 L281.6 141.4 L282.6 141.5 L283.6 141.4 L284.6 141.2 L285.6 141.0 L286.6 140.9 L287.6 140.7 L288.6 140.6 L289.6 140.4 L290.6 140.2 L291.6 140.1 L292.6 139.9 L293.6 139.8 L294.6 139.6 L295.6 139.5 L296.6 139.3 L297.6 139.2 L298.6 139.0 L299.6 138.9 L300.6 138.8 L301.6 138.6 L302.6 138.5 L303.6 138.3 L304.6 138.2 L305.6 138.1 L306.6 137.9 L307.6 137.8 L308.6 137.7 L309.6 137.5 L310.6 137.4 L311.6 137.3 L312.6 137.1 L313.6 137.0 L314.6 136.9 L315.6 136.7 L316.6 136.6 L317.6 136.5 L318.6 136.4 L319.6 136.3 L320.6 136.1 L321.6 136.0 L322.6 135.9 L323.6 135.8 L324.6 135.7 L325.6 135.5 L326.6 135.4 L327.6 135.3 L328.6 135.2 L329.6 135.1 L330.6 135.0 L331.6 134.9 L332.6 134.8 L333.6 134.6 L334.6 134.5 L335.6 134.4 L336.6 134.3 L337.6 134.2 L338.6 134.1 L339.6 134.0 L340.6 133.9 L341.6 133.8 L342.6 133.7 L343.6 133.6 L344.6 133.5 L345.6 133.4 L346.6 133.3 L347.6 133.2 L348.6 133.1 L349.6 133.0 L350.6 132.9 L351.6 132.8 L352.6 132.7 L353.6 132.6 L354.6 132.6 L355.6 132.5 L356.6 132.4 L357.6 132.3 L358.6 132.2 L359.6 132.1 L360.6 132.0 L361.6 131.9 L362.6 131.9 L363.6 131.8 L364.6 131.7 L365.6 131.6 L366.6 131.5 L367.6 131.4 L368.6 131.4 L369.6 131.3 L370.6 131.2 L371.6 131.1 L372.6 131.0 L373.6 131.0 L374.6 130.9 L375.6 130.8 L376.6 130.7 L377.6 130.7 L378.6 130.6 L379.6 130.5 L380.6 130.4 L381.6 130.4 L382.6 130.3 L383.6 130.2 L384.6 130.1 L385.6 130.1 L386.6 130.0 L387.6 129.9 L388.6 129.9 L389.6 129.8 L390.6 129.7 L391.6 129.7 L392.6 129.7 L393.6 129.9 L394.6 130.0 L395.6 130.1 L396.6 130.2 L397.6 130.4 L398.6 130.5 L399.6 130.6 L400.6 130.7 L401.6 130.9 L402.6 131.0 L403.6 131.1 L404.6 131.2 L405.6 131.3 L406.6 131.5 L407.6 131.6 L408.6 131.7 L409.6 131.8 L410.6 131.9 L411.6 132.1 L412.6 132.2 L413.6 132.3 L414.6 132.4 L415.6 132.5 L416.6 132.7 L417.6 132.8 L418.6 132.9 L419.6 133.0 L420.6 133.1 L421.6 133.2 L422.6 133.4 L423.6 133.5 L424.6 133.6 L425.6 133.7 L426.6 133.8 L427.6 133.9 L428.6 134.0 L429.6 134.2 L430.6 134.3 L431.6 134.4 L432.6 134.5 L433.6 134.6 L434.6 134.7 L435.6 134.8 L436.6 134.9 L437.6 135.1 L438.6 135.2 L439.6 135.3 L440.6 135.4 L441.6 135.5 L442.6 135.6 L443.6 135.7 L444.6 135.8 L445.6 135.9 L446.6 136.0 L447.6 136.2 L448.6 136.3 L449.6 136.4 L450.6 136.5 L451.6 136.6 L452.6 136.7 L453.6 136.8 L454.6 136.9 L455.6 137.0 L456.6 137.1 L457.6 137.2 L458.6 137.3 L459.6 137.4 L460.6 137.5 L461.6 137.6 L462.6 137.7 L463.6 137.8 L464.6 137.9 L465.6 138.0 L466.6 138.1 L467.6 138.3 L468.6 138.4 L469.6 138.5 L470.6 138.6 L471.6 138.7 L472.6 138.8 L473.6 138.9 L474.6 139.0 L475.6 139.1 L476.6 139.2 L477.6 139.3 L478.6 139.4 L479.6 139.5 L480.6 139.6 L481.6 139.7 L482.6 139.8 L483.6 139.8 L484.6 139.9 L485.6 140.0 L486.6 140.1 L487.6 140.2 L488.6 140.3 L489.6 140.4 L490.6 140.5 L491.6 140.6 L492.6 140.7 L493.6 140.8 L494.6 140.9 L495.6 141.0 L496.6 141.1 L497.6 141.2 L498.6 141.3 L499.6 141.4 L500.6 141.5 L501.6 141.4 L502.6 141.3 L503.6 141.1 L504.6 140.9 L505.6 140.8 L506.6 140.6 L507.6 140.5 L508.6 140.3 L509.6 140.2 L510.6 140.0 L511.6 139.9 L512.6 139.7 L513.6 139.6 L514.6 139.4 L515.6 139.3 L516.6 139.1 L517.6 139.0 L518.6 138.8 L519.6 138.7 L520.6 138.5 L521.6 138.4 L522.6 138.3 L523.6 138.1 L524.6 138.0 L525.6 137.8 L526.6 137.7 L527.6 137.6 L528.6 137.4 L529.6 137.3 L530.6 137.2 L531.6 137.1 L532.6 136.9 L533.6 136.8 L534.6 136.7 L535.6 136.6 L536.6 136.4 L537.6 136.3 L538.6 136.2 L539.6 136.1 L540.6 135.9 L541.6 135.8 L542.6 135.7 L543.6 135.6 L544.6 135.5 L545.6 135.4 L546.6 135.2 L547.6 135.1 L548.6 135.0 L549.6 134.9 L550.6 134.8 L551.6 134.7 L552.6 134.6 L553.6 134.5 L554.6 134.4 L555.6 134.3 L556.6 134.2 L557.6 134.1 L558.6 134.0 L559.6 133.9 L560.6 133.7 L561.6 133.6 L562.6 133.5 L563.6 133.5 L564.6 133.4 L565.6 133.3 L566.6 133.2 L567.6 133.1 L568.6 133.0 L569.6 132.9" stroke="#70AD47" stroke-width="1.8" fill="none" stroke-linejoin="round" stroke-linecap="round"/>
<path d="M106.0 351.2H126.4" stroke="#000" stroke-width="1.8" fill="none" stroke-linecap="round"/>
<path d="M247.8 351.2H268.2" stroke="#ED7D31" stroke-width="1.8" fill="none" stroke-linecap="round"/>
<path d="M319.7 351.2H339.79999999999995" stroke="#A5A5A5" stroke-width="1.8" fill="none" stroke-linecap="round"/>
<path d="M391.0 351.2H411.2" stroke="#FFC000" stroke-width="1.8" fill="none" stroke-linecap="round"/>
<path d="M457.0 351.2H477.4" stroke="#5B9BD5" stroke-width="1.8" fill="none" stroke-linecap="round"/>
<path d="M528.5999999999999 351.2H549.3" stroke="#70AD47" stroke-width="1.8" fill="none" stroke-linecap="round"/>
<g>
<text x="194.2" y="24.9" font-size="16" text-anchor="start" textLength="288" lengthAdjust="spacingAndGlyphs">Impact of Capacitance on Output Voltage</text>
<text x="493.2" y="43.30" font-size="8.8" text-anchor="end" textLength="36.51" lengthAdjust="spacingAndGlyphs">3.00E+00</text>
<text x="493.2" y="88.13" font-size="8.8" text-anchor="end" textLength="36.51" lengthAdjust="spacingAndGlyphs">2.00E+00</text>
<text x="493.2" y="132.97" font-size="8.8" text-anchor="end" textLength="36.51" lengthAdjust="spacingAndGlyphs">1.00E+00</text>
<text x="493.2" y="177.80" font-size="8.8" text-anchor="end" textLength="36.51" lengthAdjust="spacingAndGlyphs">0.00E+00</text>
<text x="493.2" y="223.33" font-size="9.6" text-anchor="end" textLength="39.33" lengthAdjust="spacingAndGlyphs">-1.00E+00</text>
<text x="493.2" y="268.17" font-size="9.6" text-anchor="end" textLength="39.33" lengthAdjust="spacingAndGlyphs">-2.00E+00</text>
<text x="493.2" y="313.00" font-size="9.6" text-anchor="end" textLength="39.33" lengthAdjust="spacingAndGlyphs">-3.00E+00</text>
<text x="43.50" y="191.2" font-size="9.7" text-anchor="middle" textLength="37.21" lengthAdjust="spacingAndGlyphs">-3.50E-02</text>
<text x="109.06" y="191.2" font-size="9.7" text-anchor="middle" textLength="37.21" lengthAdjust="spacingAndGlyphs">-3.00E-02</text>
<text x="174.61" y="191.2" font-size="9.7" text-anchor="middle" textLength="37.21" lengthAdjust="spacingAndGlyphs">-2.50E-02</text>
<text x="240.17" y="191.2" font-size="9.7" text-anchor="middle" textLength="37.21" lengthAdjust="spacingAndGlyphs">-2.00E-02</text>
<text x="305.72" y="191.2" font-size="9.7" text-anchor="middle" textLength="37.21" lengthAdjust="spacingAndGlyphs">-1.50E-02</text>
<text x="371.28" y="191.2" font-size="9.7" text-anchor="middle" textLength="37.21" lengthAdjust="spacingAndGlyphs">-1.00E-02</text>
<text x="436.83" y="191.2" font-size="9.7" text-anchor="middle" textLength="37.21" lengthAdjust="spacingAndGlyphs">-5.00E-03</text>
<text x="502.39" y="191.2" font-size="9.7" text-anchor="middle" textLength="36.51" lengthAdjust="spacingAndGlyphs">0.00E+00</text>
<text x="567.94" y="191.2" font-size="9.7" text-anchor="middle" textLength="34.39" lengthAdjust="spacingAndGlyphs">5.00E-03</text>
<text x="633.50" y="191.2" font-size="9.7" text-anchor="middle" textLength="34.39" lengthAdjust="spacingAndGlyphs">1.00E-02</text>
<text x="316.3" y="330.1" font-size="11.5" text-anchor="start" textLength="41.5" lengthAdjust="spacingAndGlyphs">Time (s)</text>
<text transform="translate(17.0 206.6) rotate(-90)" font-size="12" textLength="57.5" lengthAdjust="spacingAndGlyphs">Voltage (V)</text>
<text x="129.6" y="354.7" font-size="10.7" text-anchor="start" textLength="102.8" lengthAdjust="spacingAndGlyphs">Input Voltage (Square)</text>
<text x="270.9" y="354.7" font-size="10.7" text-anchor="start" textLength="33.5" lengthAdjust="spacingAndGlyphs">0.47 uF</text>
<text x="342.9" y="354.7" font-size="10.7" text-anchor="start" textLength="33.5" lengthAdjust="spacingAndGlyphs">2.35 uF</text>
<text x="414.0" y="354.7" font-size="10.7" text-anchor="start" textLength="28.5" lengthAdjust="spacingAndGlyphs">4.7 uF</text>
<text x="479.9" y="354.7" font-size="10.7" text-anchor="start" textLength="34.0" lengthAdjust="spacingAndGlyphs">23.5 uF</text>
<text x="551.8" y="354.7" font-size="10.7" text-anchor="start" textLength="25.0" lengthAdjust="spacingAndGlyphs">47 uF</text>
</g>
</svg>
</body></html>
